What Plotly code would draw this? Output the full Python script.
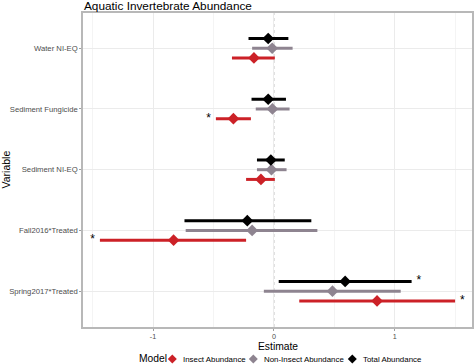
import plotly.graph_objects as go

variables = ["Water NI-EQ", "Sediment Fungicide", "Sediment NI-EQ", "Fall2016*Treated", "Spring2017*Treated"]
models = ["Insect Abundance", "Non-Insect Abundance", "Total Abundance"]

insect_est = [-0.165, -0.335, -0.107, -0.83, 0.854]
insect_lo = [-0.347, -0.48, -0.23, -1.44, 0.21]
insect_hi = [0.008, -0.19, 0.008, -0.23, 1.50]
insect_sig = [False, True, False, True, True]

noninsect_est = [-0.014, -0.012, -0.02, -0.18, 0.485]
noninsect_lo = [-0.18, -0.15, -0.14, -0.73, -0.083]
noninsect_hi = [0.155, 0.13, 0.105, 0.36, 1.05]
noninsect_sig = [False, False, False, False, False]

total_est = [-0.047, -0.047, -0.025, -0.22, 0.59]
total_lo = [-0.21, -0.185, -0.14, -0.74, 0.04]
total_hi = [0.12, 0.10, 0.09, 0.31, 1.14]
total_sig = [False, False, False, False, True]

x_ticks = [-1, 0, 1]

colors = {"Insect Abundance": "#CC2127", "Non-Insect Abundance": "#8E8490", "Total Abundance": "#000000"}
dodge = {"Insect Abundance": -0.16, "Non-Insect Abundance": 0.0, "Total Abundance": 0.16}

series = {
    "Insect Abundance": (insect_est, insect_lo, insect_hi, insect_sig),
    "Non-Insect Abundance": (noninsect_est, noninsect_lo, noninsect_hi, noninsect_sig),
    "Total Abundance": (total_est, total_lo, total_hi, total_sig),
}

W, H = 474, 364
ML, MR, MT, MB = 83, 2, 13, 37
PW, PH = W - ML - MR, H - MT - MB

n = len(variables)
ypos = {v: n - i for i, v in enumerate(variables)}

fig = go.Figure()
for m in models:
    est, lo, hi, sig = series[m]
    ys = [ypos[v] + dodge[m] for v in variables]
    fig.add_trace(go.Scatter(
        x=est, y=ys, mode="markers", name=m, showlegend=False,
        marker=dict(symbol="diamond", size=9, color=colors[m]),
        error_x=dict(type="data", symmetric=False,
                     array=[h - e for h, e in zip(hi, est)],
                     arrayminus=[e - l for e, l in zip(est, lo)],
                     color=colors[m], thickness=3, width=0),
    ))
    sx, sy = [], []
    for e, l, h, s, y in zip(est, lo, hi, sig, ys):
        if s:
            sx.append(l - 0.06 if e < 0 else h + 0.06)
            sy.append(y)
    if sx:
        fig.add_trace(go.Scatter(x=sx, y=sy, mode="text", text=["*"] * len(sx),
                                 textposition="middle center",
                                 textfont=dict(size=12, color="black", family="Liberation Sans"),
                                 showlegend=False, hoverinfo="skip"))

def px_x(p):
    return (p - ML) / PW

def px_y(p):
    return (MT + PH - p) / PH

annotations = [
    dict(text="Aquatic Invertebrate Abundance", xref="paper", yref="paper",
         x=px_x(82), y=px_y(6), xanchor="left", yanchor="middle", showarrow=False,
         font=dict(size=11.8, color="black")),
    dict(text="Estimate", xref="paper", yref="paper", x=0.5, y=px_y(346), borderpad=0,
         xanchor="center", yanchor="middle", showarrow=False, font=dict(size=10.3, color="black")),
    dict(text="Variable", xref="paper", yref="paper", x=px_x(5.5), y=0.5, textangle=-90,
         xanchor="center", yanchor="middle", showarrow=False, font=dict(size=10.5, color="black")),
    dict(text="Model", xref="paper", yref="paper", x=px_x(137), y=px_y(358.5),
         xanchor="left", yanchor="middle", showarrow=False, font=dict(size=10.3, color="#000000")),
]
shapes = []
leg_sym_x = [172.3, 253.3, 352.3]
for m, sxp in zip(models, leg_sym_x):
    shapes.append(dict(type="path", xref="paper", yref="paper",
                       xsizemode="pixel", ysizemode="pixel",
                       xanchor=px_x(sxp), yanchor=px_y(359),
                       path="M 0 4.5 L 4.5 0 L 0 -4.5 L -4.5 0 Z",
                       fillcolor=colors[m], line=dict(width=0), layer="above"))
    annotations.append(dict(text=m, xref="paper", yref="paper", x=px_x(sxp + 8.5), y=px_y(359),
                            xanchor="left", yanchor="middle", showarrow=False,
                            font=dict(size=7.9, color="black")))

fig.update_layout(
    width=W, height=H,
    margin=dict(l=ML, r=MR, t=MT, b=MB),
    paper_bgcolor="white", plot_bgcolor="white",
    font=dict(family="Liberation Sans", color="#4D4D4D"),
    annotations=annotations, shapes=shapes,
    xaxis=dict(range=[-1.58, 1.64], tickvals=x_ticks, ticktext=[str(t) for t in x_ticks],
               showgrid=True, gridcolor="#EBEBEB", gridwidth=1,
               minor=dict(tickvals=[-1.5, -0.5, 0.5, 1.5], showgrid=True, gridcolor="#F4F4F4", gridwidth=1),
               zeroline=False, ticks="outside", ticklen=2, tickcolor="#9F9F9F",
               tickfont=dict(size=7.2, color="#4D4D4D"), automargin=False,
               showline=True, linecolor="#B8B8B8", linewidth=1.5, mirror=True),
    yaxis=dict(range=[0.41, 5.58], tickvals=[ypos[v] for v in variables], ticktext=variables,
               showgrid=True, gridcolor="#EBEBEB", gridwidth=1, zeroline=False,
               ticks="outside", ticklen=2, tickcolor="#9F9F9F",
               tickfont=dict(size=7.7, color="#4D4D4D"), automargin=False,
               showline=True, linecolor="#B8B8B8", linewidth=1.5, mirror=True),
    showlegend=False,
)
fig.add_vline(x=0, line=dict(color="#B0B0B0", width=1, dash="dot"), layer="below")
fig.write_html("out.html", config={"displayModeBar": False},
               post_script="document.body.style.margin='0';document.body.style.overflow='hidden';")
